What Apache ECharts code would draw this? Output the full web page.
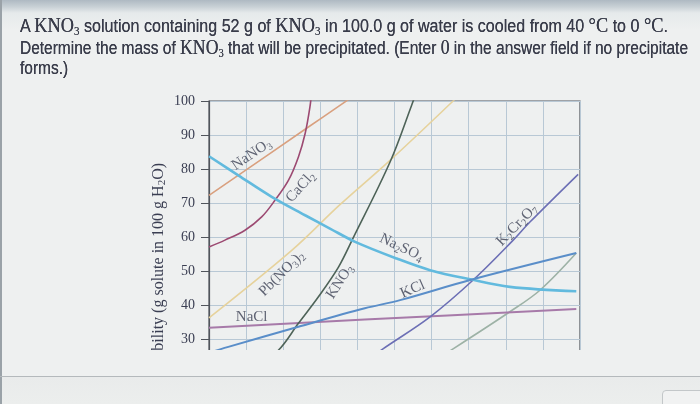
<!DOCTYPE html>
<html>
<head>
<meta charset="utf-8">
<script src="https://cdn.jsdelivr.net/npm/echarts@6/dist/echarts.min.js"></script>
<style>
  html, body { margin:0; padding:0; width:700px; height:404px; overflow:hidden; }
  body {
    position:relative;
    background: linear-gradient(to bottom, #aeb9c2 0px, #c9d1d6 7px, #e6eaeb 13px, #eef0f0 30px, #eef0f0 376px, #e9ebeb 377px, #eceeed 404px);
    font-family: "Liberation Sans", Arial, sans-serif;
    color:#393c4a;
  }
  #edge { position:absolute; left:0; top:0; width:2px; height:404px; background:#9aa2a8; }
  .q { position:absolute; left:20px; font-size:17.5px; line-height:21px; white-space:nowrap; transform-origin:0 0; text-shadow:0 0 0.4px #393c4a; }
  .f { font-family:"Liberation Serif", "Times New Roman", serif; font-size:20px; }
  .f sub { font-size:12px; vertical-align:-3px; line-height:0; }
  #wrap { position:absolute; left:0; top:0; width:700px; height:350px; overflow:hidden; }
  #chart { position:absolute; left:0; top:0; width:700px; height:480px; }
  #rule { position:absolute; left:0; top:376px; width:700px; height:1px; background:#b4b9bc; }
  #btn { position:absolute; left:662px; top:390px; width:50px; height:24px; border:1px solid #c3c7c9; border-radius:4px; background:#f1f2f2; }
</style>
</head>
<body>
<div id="edge"></div>
<div id="wrap"><div id="chart"></div></div>
<div class="q" id="l1" style="top:15px">A <span class="f">KNO<sub>3</sub></span> solution containing 52 g of <span class="f">KNO<sub>3</sub></span> in 100.0 g of water is cooled from 40 <span class="f">°C</span> to 0 <span class="f">°C</span>.</div>
<div class="q" id="l2" style="top:37px">Determine the mass of <span class="f">KNO<sub>3</sub></span> that will be precipitated. (Enter <span class="f">0</span> in the answer field if no precipitate</div>
<div class="q" id="l3" style="top:58px">forms.)</div>
<div id="rule"></div>
<div id="btn"></div>
<script>
// ---- data (temperature °C, solubility g / 100 g water) ----
const naNO3   = [[0,72.3],[26.3,92.0],[35.3,98.7],[40,102.3]];
const caCl2   = [[0,57.2],[4.3,59.2],[9.7,62.1],[14.2,66.0],[17.8,70.9],[21.4,76.7],[24.1,83.6],[25.9,90.4],[27.2,98.2],[27.8,104]];
const pbNO32  = [[0,36.4],[22.3,56.2],[35.3,69.6],[48.8,82.6],[65.8,100],[70,104.5]];
const na2SO4  = [[0,83.8],[7.9,78.2],[16.9,71.9],[25.9,66.5],[32.6,62.6],[39.4,58.7],[50.6,53.8],[59.6,50.4],[70.4,47.7],[81.1,45.5],[99,44.2]];
const kNO3    = [[0,13],[10,19.5],[18.7,26.9],[24.1,34.8],[29.5,42.6],[34.9,51.3],[38.7,59.5],[48.8,82.1],[54.6,98.7],[56,103]];
const naCl    = [[0,33.5],[42,35.9],[99,39.0]];
const kCl     = [[0,26.2],[5.2,27.9],[24.1,33.8],[42,39.2],[51.5,41.6],[70.4,47.5],[99,55.4]];
const k2Cr2O7 = [[40,22],[47,27.4],[59.6,36.7],[71.2,47.5],[82,59.2],[86.5,64.5],[99.5,78.5]];
const kClO3   = [[55,20],[65.9,27.4],[81.1,38.2],[89.2,44.5],[99,55.4]];

const yTicks = [0,10,20,30,40,50,60,70,80,90,100];
const xTicks = [0,10,20,30,40,50,60,70,80,90,100];

// curve labels: text, temperature, solubility, angle
const labelNames = ['NaNO{s|3}','CaCl{s|2}','Pb(NO{s|3}){s|2}','KNO{s|3}','Na{s|2}SO{s|4}','KCl','K{s|2}Cr{s|2}O{s|7}','NaCl','KClO{s|3}'];
const labelT     = [11.5, 24.7, 19.6, 35.3, 51.9, 54.9, 83.0, 11.5, 73.6];
const labelS     = [84.3, 74.8, 49.4, 47.0, 57.0, 44.8, 63.6, 36.7, 23.4];
const labelRot   = [34, 48, 45, 57, -25, 24, 46, 0, 35];

const yTitle = 'Solubility (g solute in 100 g H{s|2}O)';

// ---- chart ----
const serif = '"Liberation Serif", "Times New Roman", serif';
const ink = '#3a3e52';
const chart = echarts.init(document.getElementById('chart'));

function line(data, color, width, z) {
  return { type:'line', data:data, showSymbol:false, smooth:0.35,
           lineStyle:{ color:color, width:width }, z:z, silent:true, animation:false };
}

chart.setOption({
  animation:false,
  grid:{ left:209, top:101, right:120, height:341, show:true, borderColor:'#50555c', borderWidth:1.2, backgroundColor:'transparent' },
  xAxis:{ type:'value', min:xTicks[0], max:xTicks[xTicks.length-1], interval:10,
          axisLine:{ lineStyle:{ color:'#50555c', width:1.2 } },
          axisTick:{ show:true, length:8, lineStyle:{ color:'#50555c' } },
          axisLabel:{ color:ink, fontFamily:serif, fontSize:14 },
          splitLine:{ show:true, lineStyle:{ color:'#b8c8d5', width:1 } } },
  yAxis:{ type:'value', min:yTicks[0], max:yTicks[yTicks.length-1], interval:10,
          name:yTitle, nameLocation:'middle', nameGap:41, nameMoveOverlap:false,
          nameTextStyle:{ color:ink, fontFamily:serif, fontSize:16,
             rich:{ s:{ fontSize:11, fontFamily:serif, color:ink, padding:[8,0,0,0] } } },
          axisLine:{ show:true, lineStyle:{ color:'#50555c', width:1.2 } },
          axisTick:{ show:true, length:8, lineStyle:{ color:'#50555c' } },
          axisLabel:{ color:ink, fontFamily:serif, fontSize:14, margin:14 },
          splitLine:{ show:true, lineStyle:{ color:'#b8c8d5', width:1 } } },
  series:[
    line(pbNO32,  '#e6d29c', 1.6, 2),
    line(naNO3,   '#d9a07f', 1.6, 2),
    line(caCl2,   '#9c4a72', 1.6, 3),
    line(kClO3,   '#9db2a6', 1.6, 2),
    line(naCl,    '#a77aa9', 2.0, 3),
    line(kNO3,    '#4e6358', 1.6, 4),
    line(k2Cr2O7, '#6c6fb5', 1.6, 4),
    line(na2SO4,  '#62bade', 2.6, 5),
    line(kCl,     '#5a8ec9', 2.0, 6),
    { type:'scatter', symbolSize:0, silent:true, z:10, animation:false,
      label:{ show:true, position:'inside', color:ink, fontFamily:serif, fontSize:15,
              rich:{ s:{ fontSize:10, fontFamily:serif, color:ink, padding:[8,0,0,0] } } },
      data: labelNames.map((n,i)=>({ value:[labelT[i], labelS[i]],
              label:{ rotate:labelRot[i], formatter:n } })) }
  ]
});

// fit question lines to the reference's widths
function fit(id, w, sc) {
  const el = document.getElementById(id);
  const s = sc || (w / el.getBoundingClientRect().width);
  el.style.transform = 'scaleX(' + s + ')';
  return s;
}
fit('l1', 648);
const s2 = fit('l2', 668);
fit('l3', 0, s2);
</script>
</body>
</html>
